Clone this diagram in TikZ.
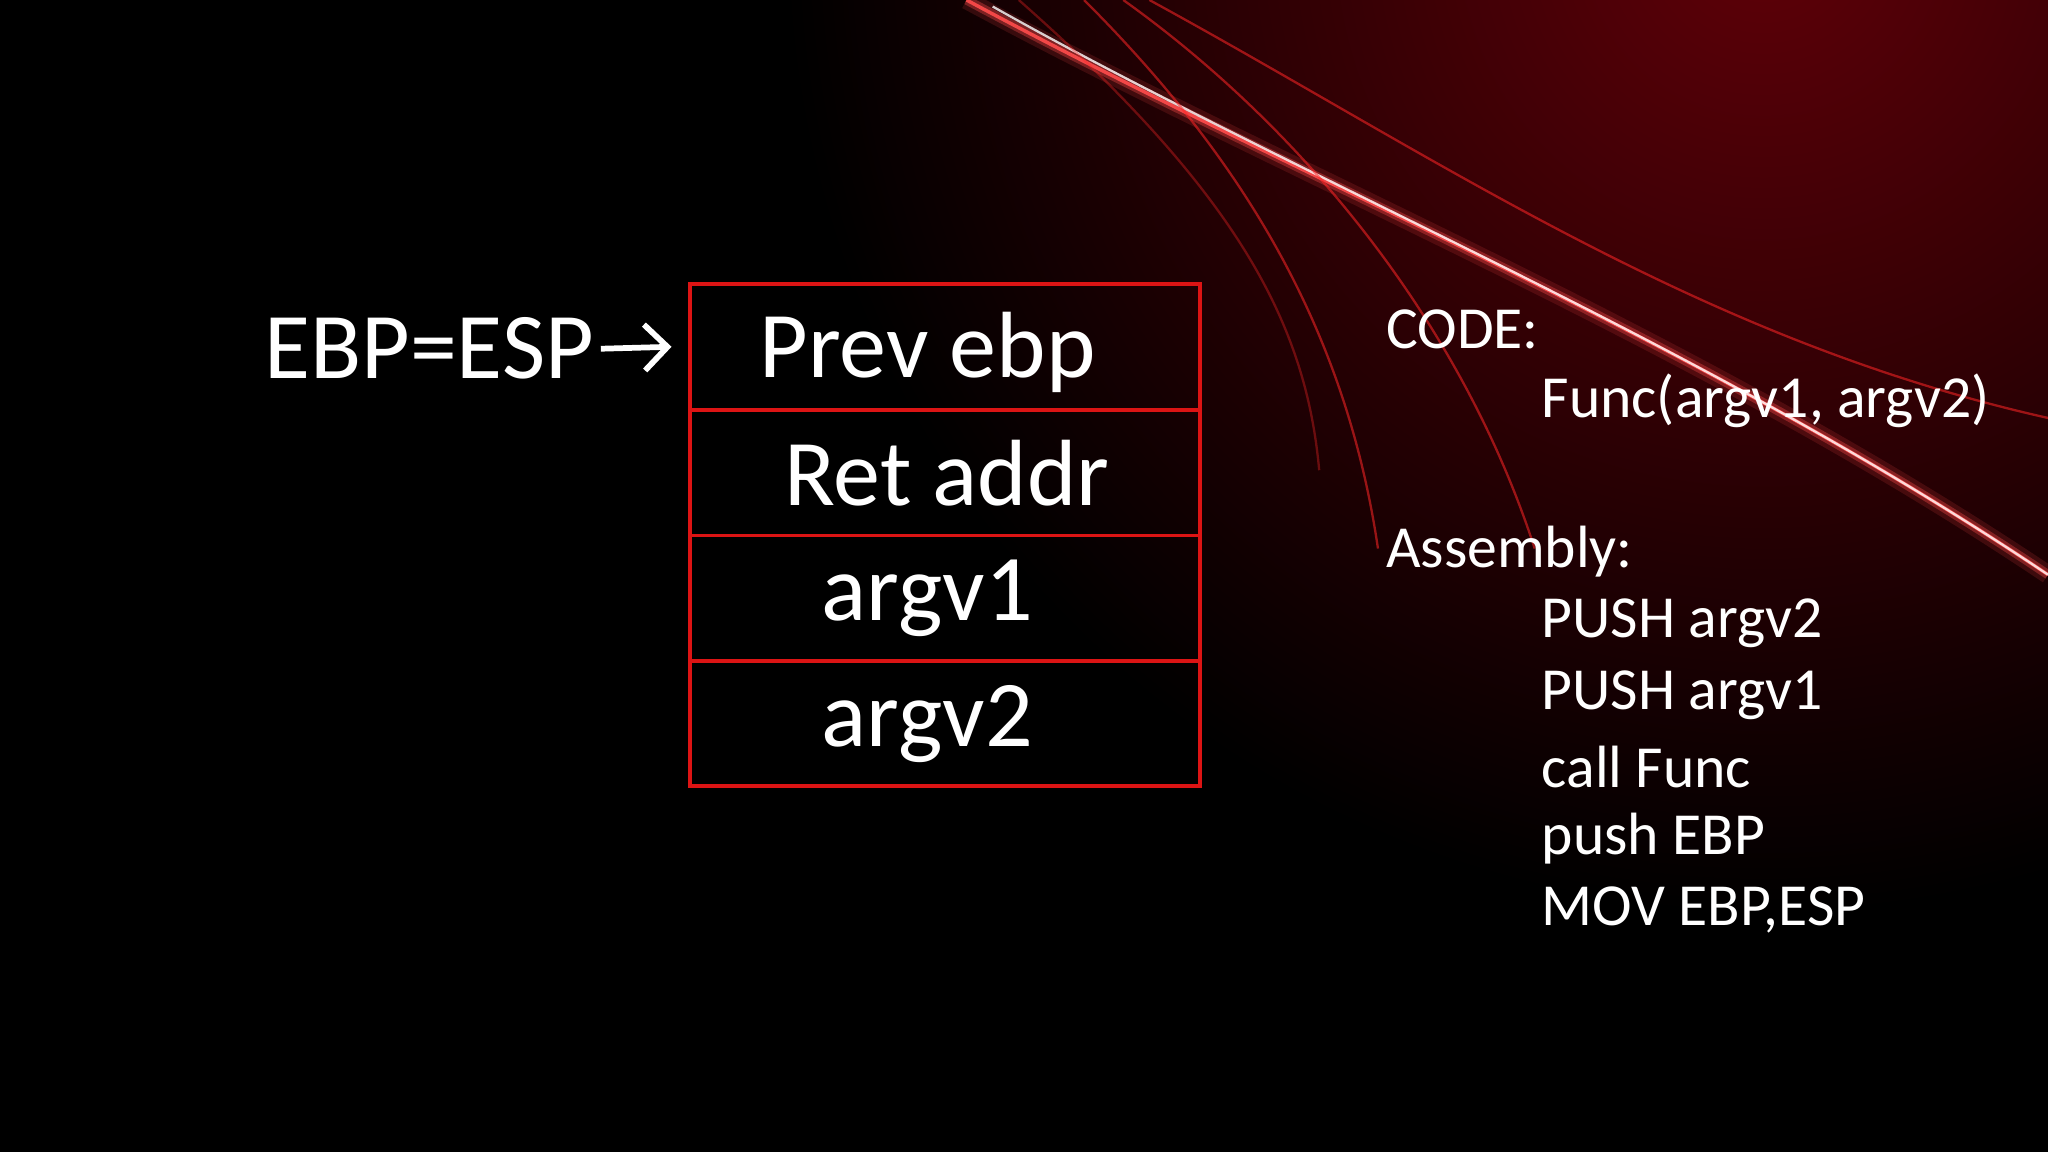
\documentclass[tikz,border=0pt]{standalone}
\usepackage{fontspec}
\setmainfont{Carlito}
\usetikzlibrary{arrows.meta}
\definecolor{boxred}{RGB}{220,20,20}
\definecolor{dred}{RGB}{95,0,8}
\tikzset{
  cell/.style={draw=boxred,line width=1.6pt,minimum width=7.82cm,minimum height=1.92cm,inner sep=0pt},
  big/.style={text=white,font=\fontsize{41}{45}\selectfont,inner sep=0pt},
  code/.style={text=white,font=\fontsize{26}{30}\selectfont,anchor=west,inner sep=0pt},
  streak/.style={draw=red!85!white,line width=1pt,opacity=0.55}
}
\begin{document}
\begin{tikzpicture}[x=0.02cm,y=-0.02cm]
\useasboundingbox (0,0) rectangle (1568,882);
\fill[black] (0,0) rectangle (1568,882);
\begin{scope}
\clip (0,0) rectangle (1568,882);
\shade[inner color=dred,outer color=black] (1350,-50) circle (750);
\foreach \w/\o in {8/0.15,4/0.35,1.5/0.9}{
 \draw[red!70!white,line width=\w pt,opacity=\o] (740,0) .. controls (1000,140) and (1300,260) .. (1568,440);
}
\draw[white,line width=1pt,opacity=0.8] (760,5) .. controls (1000,140) and (1300,260) .. (1568,440);
\draw[streak] (830,0) .. controls (950,120) and (1030,250) .. (1055,420);
\draw[streak] (860,0) .. controls (1000,100) and (1120,250) .. (1175,420);
\draw[streak] (880,0) .. controls (1100,120) and (1300,260) .. (1568,320);
\draw[streak,opacity=0.35] (780,0) .. controls (950,150) and (1000,250) .. (1010,360);
\end{scope}
\node[cell] (c1) at (723.5,265.5) {};
\node[cell] (c2) at (723.5,362) {};
\node[cell] (c3) at (723.5,458) {};
\node[cell] (c4) at (723.5,554) {};
\node[big] (t1) at (710,270) {Prev ebp};
\node[big] (t2) at (725,362) {Ret addr};
\node[big] (t3) at (710,458) {argv1};
\node[big] (t4) at (710,554) {argv2};
\node[big,anchor=east] (lab) at (455,267) {EBP=ESP};
\draw[white,line width=2.5pt,-{Straight Barb[length=10pt,width=20pt]}] ([xshift=0.1cm]lab.east) -- ([xshift=-0.25cm]c1.west);
\node[code] (l0) at (1061,252) {CODE:};
\node[code] (l1) at (1180,307) {Func(argv1, argv2)};
\node[code] (l2) at (1061,422) {Assembly:};
\node[code] (l3) at (1180,477) {PUSH argv2};
\node[code] (l4) at (1180,532) {PUSH argv1};
\node[code] (l5) at (1180,587) {call Func};
\node[code] (l6) at (1180,642) {push EBP};
\node[code] (l7) at (1180,697) {MOV EBP,ESP};
\end{tikzpicture}
\end{document}
